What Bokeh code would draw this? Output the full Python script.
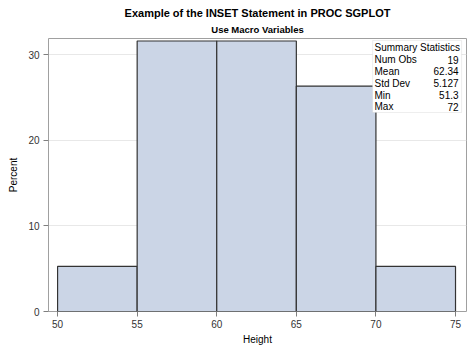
from bokeh.plotting import figure
from bokeh.models import Title, Label, BoxAnnotation, Range1d, FixedTicker
from bokeh.embed import file_html
from bokeh.resources import INLINE

bin_left = [50, 55, 60, 65, 70]
bin_right = [55, 60, 65, 70, 75]
percent = [5.263, 31.579, 31.579, 26.316, 5.263]
x_ticks = [50, 55, 60, 65, 70, 75]
y_ticks = [0, 10, 20, 30]
stat_names = ["Num Obs", "Mean", "Std Dev", "Min", "Max"]
stat_values = ["19", "62.34", "5.127", "51.3", "72"]

FONT = "Liberation Sans"

p = figure(width=474, height=355, output_backend="svg", toolbar_location=None,
           x_range=Range1d(49.43, 75.69), y_range=Range1d(0, 31.87),
           min_border_left=48, min_border_right=8, min_border_bottom=44,
           min_border_top=38)
p.title = None
p.add_layout(Title(text="Use Macro Variables", align="center", text_font=FONT,
                   text_font_size="9.5px", text_font_style="bold", text_color="#000000",
                   standoff=4, vertical_align="top"), "above")
p.add_layout(Title(text="Example of the INSET Statement in PROC SGPLOT", align="center",
                   text_font=FONT, text_font_size="11px", text_font_style="bold",
                   text_color="#000000", standoff=1, vertical_align="top"), "above")

p.quad(left=bin_left, right=bin_right, bottom=0, top=percent,
       fill_color="#CBD5E6", line_color="#333333", line_width=1.2)

for ax in (p.xaxis[0], p.yaxis[0]):
    ax.axis_line_color = None
    ax.major_tick_line_color = "#7f7f7f"
    ax.major_tick_out = 5
    ax.major_tick_in = 0
    ax.minor_tick_line_color = None
    ax.major_label_text_font = FONT
    ax.major_label_text_font_size = "10px"
    ax.major_label_text_color = "#333333"
    ax.axis_label_text_font = FONT
    ax.axis_label_text_font_size = "10px"
    ax.axis_label_text_font_style = "normal"
    ax.axis_label_text_color = "#000000"

p.xaxis.ticker = FixedTicker(ticks=x_ticks)
p.yaxis.ticker = FixedTicker(ticks=y_ticks)
p.xaxis.axis_label = "Height"
p.yaxis.axis_label = "Percent"
p.xaxis.major_label_standoff = 3
p.yaxis.major_label_standoff = 4
p.xaxis.axis_label_standoff = 3
p.yaxis.axis_label_standoff = 6

p.xgrid.grid_line_color = None
p.ygrid.grid_line_color = "#e8e8e8"
p.outline_line_color = "#a0a0a0"
p.outline_line_width = 1
p.background_fill_color = "white"
p.border_fill_color = "white"

# inset
box_l, box_r, box_t, box_b = 69.79, 75.38, 31.63, 23.23
p.add_layout(BoxAnnotation(left=box_l, right=box_r, top=box_t, bottom=box_b,
                           fill_color="white", fill_alpha=1.0,
                           line_color="#c8c8c8", line_width=1))
row_top = 30.78
row_step = 1.378
p.add_layout(Label(x=box_l + 0.12, y=row_top, text="Summary Statistics",
                   text_font=FONT, text_font_size="10px", text_baseline="middle",
                   text_align="left", text_color="#000000"))
for i, (n, v) in enumerate(zip(stat_names, stat_values)):
    yy = row_top - (i + 1) * row_step
    p.add_layout(Label(x=box_l + 0.12, y=yy, text=n, text_font=FONT,
                       text_font_size="10px", text_baseline="middle",
                       text_align="left", text_color="#000000"))
    p.add_layout(Label(x=box_r - 0.19, y=yy, text=v, text_font=FONT,
                       text_font_size="10px", text_baseline="middle",
                       text_align="right", text_color="#000000"))

open("out.html", "w").write(file_html(p, INLINE))
